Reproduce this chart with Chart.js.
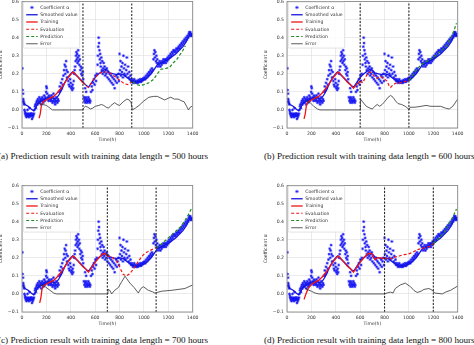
<!DOCTYPE html>
<html>
<head>
<meta charset="utf-8">
<script src="https://cdn.jsdelivr.net/npm/chart.js@4.4.1/dist/chart.umd.min.js"></script>
<style>
  html, body { margin: 0; padding: 0; background: #fff; }
  body { position: relative; width: 474px; height: 345px; overflow: hidden; }
  canvas { position: absolute; }
  .cap {
    position: absolute;
    font-family: "Liberation Serif", "Times New Roman", serif;
    font-size: 9.15px;
    line-height: 9.15px;
    white-space: nowrap;
    color: #111;
  }
</style>
</head>
<body>
<canvas id="pa" width="237" height="155" style="left:-28px;top:-8px"></canvas>
<canvas id="pb" width="237" height="155" style="left:237px;top:-8px"></canvas>
<canvas id="pc" width="237" height="155" style="left:-28px;top:176px"></canvas>
<canvas id="pd" width="237" height="155" style="left:237px;top:176px"></canvas>
<div class="cap" style="left:-2px;top:152px">(a) Prediction result with training data length = 500 hours</div>
<div class="cap" style="left:264px;top:152px">(b) Prediction result with training data length = 600 hours</div>
<div class="cap" style="left:-2px;top:335.5px">(c) Prediction result with training data length = 700 hours</div>
<div class="cap" style="left:264px;top:335.5px">(d) Prediction result with training data length = 800 hours</div>
<script>
// Axis ticks
const xTicks = [0, 200, 400, 600, 800, 1000, 1200, 1400];
const yTicks = [-0.1, 0.0, 0.1, 0.2, 0.3, 0.4, 0.5, 0.6];

// Measured coefficient α samples: [time (h), α]
const alphaSamples = [
  [3,0.23],[5,0.11],[8,0.09],[10,0.06],[12,0.05],[15,0.04],[18,0.03],
  [20,0.0],[24,-0.01],[27,-0.02],[30,-0.03],[33,-0.02],[36,-0.04],[40,-0.03],[43,-0.025],[45,0.0],
  [47,-0.035],[50,-0.02],[54,-0.03],[57,-0.04],[60,-0.025],[62,0.01],[64,-0.03],[68,-0.02],[71,-0.035],
  [75,-0.03],[78,-0.02],[82,-0.05],[85,-0.03],[88,-0.04],[89,-0.025],[93,-0.03],[97,-0.02],
  [102,0.0],[106,0.02],[110,0.03],[114,0.01],[118,0.04],[122,0.05],[126,0.03],[130,0.06],[134,0.04],
  [138,0.05],[142,0.07],[146,0.04],[150,0.06],[154,0.05],[158,0.03],
  [162,0.06],[166,0.07],[170,0.05],[174,0.04],[178,0.06],[182,0.08],[186,0.05],[190,0.07],[194,0.06],
  [198,0.1],[200,0.13],[203,0.12],[206,0.09],[210,0.06],[214,0.07],[218,0.05],[222,0.08],[226,0.06],
  [230,0.07],[234,0.05],[238,0.06],[242,0.08],[246,0.05],[250,0.04],[255,0.07],[258,0.09],[260,0.05],
  [265,0.06],[270,0.04],[272,0.03],[275,0.05],[280,0.07],[285,0.05],[290,0.04],[295,0.06],[300,0.05],
  [305,0.1],[310,0.13],[315,0.11],[320,0.15],[325,0.12],[330,0.17],[335,0.14],[340,0.19],[345,0.22],
  [350,0.25],[355,0.2],[358,0.24],[362,0.27],[365,0.22],[370,0.18],[375,0.21],[380,0.16],[385,0.14],
  [390,0.13],[395,0.17],
  [400,0.15],[404,0.12],[408,0.13],[412,0.11],[416,0.14],[420,0.12],[424,0.16],[428,0.2],[432,0.22],[436,0.24],
  [440,0.27],[443,0.3],[446,0.32],[449,0.28],[452,0.31],[455,0.26],[458,0.29],[461,0.33],[464,0.27],
  [467,0.3],[470,0.25],[474,0.28],[478,0.22],
  [482,0.24],[486,0.2],[490,0.23],[494,0.19],[498,0.21],[502,0.17],
  [508,0.07],[512,0.05],[516,0.06],[518,0.12],[520,0.04],[524,0.07],[526,0.1],[528,0.05],[532,0.06],
  [536,0.04],[540,0.05],[544,0.07],[548,0.05],[552,0.06],[556,0.04],[560,0.05],
  [566,0.1],[572,0.13],[578,0.11],[584,0.15],[590,0.17],[596,0.14],[602,0.19],[608,0.16],[614,0.2],
  [620,0.25],[623,0.3],[626,0.35],[629,0.4],[632,0.37],[635,0.33],[638,0.28],[641,0.31],[644,0.26],
  [647,0.24],[650,0.29],[654,0.22],[658,0.27],[662,0.2],[666,0.23],[670,0.26],[674,0.21],[678,0.24],
  [682,0.19],[686,0.22],[690,0.2],
  [695,0.23],[700,0.18],[706,0.21],[712,0.17],[718,0.2],[724,0.16],[730,0.19],[736,0.15],[742,0.18],
  [748,0.14],[754,0.17],[760,0.12],[766,0.16],[772,0.19],[778,0.15],[784,0.18],[790,0.2],[795,0.16],
  [800,0.31],[804,0.22],[808,0.27],[812,0.19],[816,0.24],[820,0.21],[824,0.26],[828,0.18],[832,0.3],
  [836,0.23],[840,0.2],[845,0.25],[850,0.19],[855,0.22],[860,0.29],[865,0.2],[870,0.24],[875,0.18],
  [880,0.21],[885,0.17],[890,0.19],[895,0.16],
  [900,0.17],[905,0.16],[910,0.15],[915,0.16],[920,0.17],[925,0.15],[930,0.16],[935,0.155],[940,0.15],
  [945,0.16],[950,0.15],[955,0.165],[960,0.155],[965,0.16],[970,0.17],[975,0.155],[980,0.16],[985,0.17],
  [990,0.165],[995,0.175],
  [1000,0.17],[1006,0.18],[1012,0.17],[1018,0.19],[1024,0.18],[1030,0.2],[1036,0.19],[1042,0.21],
  [1048,0.2],[1054,0.22],[1060,0.21],[1066,0.23],[1072,0.22],
  [1078,0.28],[1082,0.31],[1086,0.33],[1090,0.29],[1094,0.32],[1098,0.27],[1102,0.3],[1106,0.26],[1110,0.28],
  [1115,0.24],[1120,0.26],[1125,0.25],[1130,0.27],[1135,0.24],[1140,0.26],[1145,0.25],[1150,0.27],
  [1155,0.26],[1160,0.28],[1165,0.26],[1170,0.27],[1175,0.28],[1180,0.26],[1185,0.28],[1190,0.27],[1195,0.29],
  [1200,0.28],[1206,0.3],[1212,0.29],[1218,0.31],[1224,0.3],[1230,0.32],[1236,0.31],[1242,0.33],
  [1248,0.32],[1254,0.33],[1260,0.32],[1266,0.34],[1272,0.33],[1278,0.34],[1284,0.35],
  [1290,0.34],[1296,0.36],[1302,0.35],[1308,0.37],[1314,0.36],[1320,0.38],[1326,0.37],[1332,0.39],
  [1338,0.38],[1344,0.4],[1350,0.39],[1356,0.41],[1362,0.4],[1368,0.42],[1372,0.43],[1376,0.41],
  [1380,0.43],[1384,0.42],[1388,0.41],[1392,0.42]
];

// Smoothed α curve (same in every panel)
const smoothed = [
  [0,0.05],[25,0.03],[50,0.02],[75,0.005],[95,-0.005],[110,0.01],[130,0.035],[150,0.045],[175,0.055],
  [200,0.065],[225,0.07],[250,0.065],[275,0.06],[300,0.08],[325,0.11],[350,0.15],[375,0.18],[400,0.2],
  [415,0.21],[440,0.195],[470,0.175],[500,0.155],[520,0.14],[545,0.125],[570,0.15],[600,0.18],[630,0.2],
  [660,0.215],[680,0.225],[700,0.22],[720,0.205],[750,0.2],[780,0.195],[800,0.2],[830,0.195],[860,0.18],
  [890,0.165],[920,0.155],[950,0.155],[980,0.16],[1000,0.165],[1030,0.18],[1060,0.2],[1090,0.23],
  [1110,0.25],[1140,0.26],[1170,0.27],[1200,0.28],[1230,0.295],[1260,0.31],[1290,0.33],[1320,0.35],
  [1350,0.38],[1375,0.42],[1390,0.41],[1400,0.405]
];

// Panel (a): training 500 h
const trainA = [[140,-0.046],[150,-0.02],[160,0.03],[175,0.045],[200,0.055],[230,0.065],[260,0.075],[290,0.095],
  [320,0.12],[350,0.15],[380,0.18],[405,0.2],[420,0.21],[450,0.19],[480,0.165],[500,0.15]];
const evalA = [[500,0.15],[520,0.14],[545,0.125],[570,0.15],[600,0.18],[630,0.2],[660,0.21],[690,0.21],
  [720,0.205],[750,0.19],[780,0.175],[810,0.16],[840,0.145],[870,0.14],[900,0.155]];
const predA = [[910,0.155],[940,0.14],[970,0.135],[1000,0.14],[1040,0.15],[1080,0.17],[1110,0.2],[1140,0.225],
  [1180,0.23],[1210,0.235],[1240,0.26],[1270,0.28],[1300,0.31],[1320,0.33],[1340,0.355]];
const errA = [[140,0.035],[170,0.03],[200,0.025],[230,0.01],[250,0.0],[500,0.0],[505,0.01],[520,0.02],[540,0.015],
  [560,0.005],[580,0.01],[600,0.02],[630,0.025],[650,0.03],[670,0.025],[690,0.015],[710,0.01],[730,0.025],
  [760,0.04],[780,0.03],[800,0.025],[830,0.045],[860,0.06],[880,0.055],[895,0.04],[905,0.0],[930,0.01],
  [960,0.025],[1000,0.05],[1040,0.07],[1080,0.075],[1110,0.075],[1140,0.065],[1170,0.055],[1200,0.065],
  [1220,0.07],[1250,0.06],[1280,0.06],[1310,0.05],[1330,0.045],[1350,0.02],[1365,0.0],[1380,0.015],[1395,0.02]];
const splitA = [500, 900];

// Panel (b): training 600 h
const trainB = [[140,-0.05],[150,-0.02],[160,0.03],[175,0.045],[200,0.055],[230,0.065],[260,0.075],[290,0.095],
  [320,0.12],[350,0.15],[380,0.18],[405,0.2],[420,0.21],[450,0.19],[480,0.165],[500,0.15],[520,0.14],
  [545,0.12],[570,0.14],[600,0.16]];
const evalB = [[600,0.16],[620,0.15],[640,0.175],[660,0.2],[683,0.21],[710,0.19],[740,0.175],[760,0.185],
  [780,0.18],[800,0.17],[820,0.16],[840,0.13],[850,0.125],[870,0.14],[900,0.15],[930,0.15],[960,0.155],[1000,0.165]];
const predB = [[1000,0.165],[1030,0.19],[1060,0.22],[1100,0.25],[1150,0.27],[1200,0.29],[1250,0.32],
  [1300,0.35],[1340,0.39],[1370,0.44],[1390,0.48]];
const errB = [[160,0.05],[190,0.04],[220,0.02],[250,0.005],[270,0.0],[600,0.0],[602,0.06],[620,0.045],[650,0.02],
  [680,0.01],[700,0.005],[720,0.02],[740,0.03],[760,0.02],[780,0.03],[800,0.045],[830,0.07],[850,0.08],
  [870,0.07],[890,0.05],[910,0.035],[940,0.03],[970,0.02],[990,0.01],[1000,0.0],[1010,0.015],[1050,0.015],
  [1100,0.02],[1140,0.025],[1180,0.02],[1220,0.02],[1260,0.02],[1300,0.01],[1330,0.005],[1360,0.02],
  [1390,0.05],[1400,0.06]];
const splitB = [600, 1000];

// Panel (c): training 700 h
const trainC = [[145,-0.05],[155,-0.02],[165,0.03],[180,0.045],[200,0.055],[230,0.065],[260,0.075],[290,0.095],
  [320,0.12],[350,0.15],[380,0.18],[405,0.2],[420,0.21],[450,0.19],[480,0.165],[500,0.15],[520,0.14],
  [545,0.12],[570,0.145],[600,0.175],[630,0.2],[660,0.22],[680,0.225],[700,0.21]];
const evalC = [[700,0.21],[735,0.205],[760,0.19],[790,0.17],[810,0.135],[831,0.107],[858,0.1],[880,0.11],
  [899,0.125],[925,0.15],[954,0.18],[980,0.205],[1009,0.226],[1050,0.24],[1090,0.254],[1100,0.255]];
const predC = [[1100,0.255],[1150,0.28],[1200,0.31],[1250,0.34],[1300,0.37],[1340,0.41],[1370,0.445],[1395,0.48]];
const errC = [[150,0.05],[190,0.04],[230,0.02],[260,0.005],[280,0.0],[700,0.0],[705,0.025],[720,0.02],[735,0.0],
  [760,0.02],[790,0.035],[820,0.07],[845,0.098],[885,0.06],[920,0.035],[954,0.005],[975,0.03],[995,0.04],
  [1036,0.02],[1070,0.012],[1090,0.005],[1145,0.015],[1227,0.02],[1336,0.03],[1400,0.05]];
const splitC = [700, 1100];

// Panel (d): training 800 h
const trainD = [[140,-0.03],[155,0.0],[170,0.025],[185,0.04],[205,0.055],[230,0.065],[260,0.075],[290,0.095],
  [320,0.12],[350,0.15],[380,0.18],[405,0.2],[420,0.21],[450,0.19],[480,0.165],[500,0.15],[520,0.14],
  [545,0.12],[570,0.145],[600,0.175],[630,0.2],[660,0.22],[680,0.225],[700,0.22],[720,0.19],[740,0.2],
  [770,0.2],[800,0.195]];
const evalD = [[800,0.195],[830,0.2],[860,0.195],[890,0.205],[920,0.21],[958,0.218],[990,0.22],[1030,0.23],
  [1068,0.245],[1100,0.25],[1140,0.258],[1178,0.264],[1200,0.28]];
const predD = [[1200,0.28],[1250,0.31],[1300,0.35],[1340,0.4],[1370,0.44],[1390,0.47]];
const errD = [[150,0.03],[180,0.02],[200,0.015],[230,0.005],[260,0.0],[800,0.0],[820,0.005],[848,0.01],[870,0.005],
  [888,0.03],[930,0.05],[970,0.06],[1013,0.04],[1040,0.02],[1068,0.008],[1100,0.015],[1123,0.025],
  [1164,0.03],[1192,0.02],[1211,0.005],[1274,0.0],[1300,0.01],[1342,0.02],[1403,0.045]];
const splitD = [800, 1200];

const TICK_FONT = { family: 'DejaVu Sans', size: 4.6 };
const TEXT_COLOR = '#333';

const toXY = arr => arr.map(([x, y]) => ({ x, y }));
const fmtTick = v => (v < 0 ? '\u2212' : '') + Math.abs(v).toFixed(1);

// Axes frame plus an inset legend in the upper left of the plot area
const framePlugin = {
  id: 'frameAndLegend',
  afterDatasetsDraw(chart) {
    const { ctx, chartArea: a } = chart;
    ctx.save();
    ctx.strokeStyle = '#8a8a8a';
    ctx.lineWidth = 0.9;
    ctx.strokeRect(a.left, a.top, a.right - a.left, a.bottom - a.top);

    const items = chart.data.datasets.filter(d => d.label);
    const bx = a.left + 1.2, by = a.top + 0.6, bw = 56.5, bh = 46, row = 7.25;
    ctx.fillStyle = 'rgba(255,255,255,0.85)';
    ctx.strokeStyle = '#cfcfcf';
    ctx.lineWidth = 0.6;
    ctx.beginPath();
    ctx.roundRect(bx, by, bw, bh, 1.5);
    ctx.fill();
    ctx.stroke();

    ctx.font = '4.6px "DejaVu Sans"';
    ctx.textBaseline = 'middle';
    ctx.textAlign = 'left';
    items.forEach((d, i) => {
      const y = by + 5.4 + i * row;
      const x1 = bx + 3, x2 = bx + 14.5;
      if (!d.showLine) {
        const cx = (x1 + x2) / 2, r = 1.7;
        ctx.strokeStyle = d.borderColor;
        ctx.lineWidth = 0.8;
        ctx.setLineDash([]);
        ctx.beginPath();
        ctx.moveTo(cx - r, y); ctx.lineTo(cx + r, y);
        ctx.moveTo(cx, y - r); ctx.lineTo(cx, y + r);
        ctx.moveTo(cx - r * 0.7, y - r * 0.7); ctx.lineTo(cx + r * 0.7, y + r * 0.7);
        ctx.moveTo(cx - r * 0.7, y + r * 0.7); ctx.lineTo(cx + r * 0.7, y - r * 0.7);
        ctx.stroke();
      } else {
        ctx.strokeStyle = d.borderColor;
        ctx.lineWidth = d.borderWidth;
        ctx.setLineDash(d.borderDash || []);
        ctx.beginPath();
        ctx.moveTo(x1, y); ctx.lineTo(x2, y);
        ctx.stroke();
        ctx.setLineDash([]);
      }
      ctx.fillStyle = TEXT_COLOR;
      ctx.fillText(d.label, bx + 17, y + 0.2);
    });
    ctx.restore();
  }
};

function buildPanel(id, p) {
  const line = (label, data, color, width, dash, order) => ({
    label, data: toXY(data), showLine: true, borderColor: color, borderWidth: width,
    borderDash: dash, pointRadius: 0, pointHoverRadius: 0, fill: false, tension: 0, order
  });
  const datasets = [
    {
      label: 'Coefficient \u03b1', data: toXY(alphaSamples), showLine: false,
      pointStyle: 'star', pointRadius: 1.5, pointBorderWidth: 0.8,
      borderColor: 'rgba(20,20,245,0.85)', backgroundColor: 'rgba(20,20,245,0.85)', order: 7
    },
    line('Smoothed value', smoothed, '#1515e0', 1.3, [], 6),
    line('Training', p.train, '#f01515', 1.3, [], 5),
    line('Evaluation', p.evaluation, '#f01515', 1.2, [3, 2], 4),
    line('Prediction', p.prediction, '#1e8c1e', 1.2, [3, 2], 3),
    line('Error', p.error, '#333333', 0.8, [], 2)
  ];
  p.splits.forEach(t => {
    datasets.push({
      data: [{ x: t, y: -0.1 }, { x: t, y: 0.6 }], showLine: true, borderColor: '#2a2a2a',
      borderWidth: 1.1, borderDash: [2, 1.5], pointRadius: 0, pointHoverRadius: 0, order: 1
    });
  });

  new Chart(document.getElementById(id), {
    type: 'scatter',
    data: { datasets },
    plugins: [framePlugin],
    options: {
      responsive: false,
      animation: false,
      devicePixelRatio: 1,
      layout: { padding: { left: 0, right: 16.3, top: 9.5, bottom: 0 } },
      plugins: { legend: { display: false }, tooltip: { enabled: false } },
      scales: {
        x: {
          type: 'linear', min: 0, max: 1400,
          afterBuildTicks: s => { s.ticks = xTicks.map(v => ({ value: v })); },
          afterFit: s => { s.height = 19; },
          ticks: { font: TICK_FONT, color: TEXT_COLOR, padding: 3, maxRotation: 0, autoSkip: false, callback: v => String(v) },
          grid: { color: '#dedede', lineWidth: 0.6, drawTicks: false },
          border: { display: false },
          title: { display: true, text: 'Time(h)', font: TICK_FONT, color: TEXT_COLOR, padding: { top: 0, bottom: 4.2 } }
        },
        y: {
          type: 'linear', min: -0.1, max: 0.6,
          afterBuildTicks: s => { s.ticks = yTicks.map(v => ({ value: v })); },
          afterFit: s => { s.width = 50; },
          ticks: { font: TICK_FONT, color: TEXT_COLOR, padding: 3, autoSkip: false, callback: v => fmtTick(v) },
          grid: { color: '#dedede', lineWidth: 0.6, drawTicks: false },
          border: { display: false },
          title: { display: true, text: 'Coefficient \u03b1', font: TICK_FONT, color: TEXT_COLOR, padding: { top: 26, bottom: 0 } }
        }
      }
    }
  });
}

buildPanel('pa', { train: trainA, evaluation: evalA, prediction: predA, error: errA, splits: splitA });
buildPanel('pb', { train: trainB, evaluation: evalB, prediction: predB, error: errB, splits: splitB });
buildPanel('pc', { train: trainC, evaluation: evalC, prediction: predC, error: errC, splits: splitC });
buildPanel('pd', { train: trainD, evaluation: evalD, prediction: predD, error: errD, splits: splitD });
</script>
</body>
</html>
